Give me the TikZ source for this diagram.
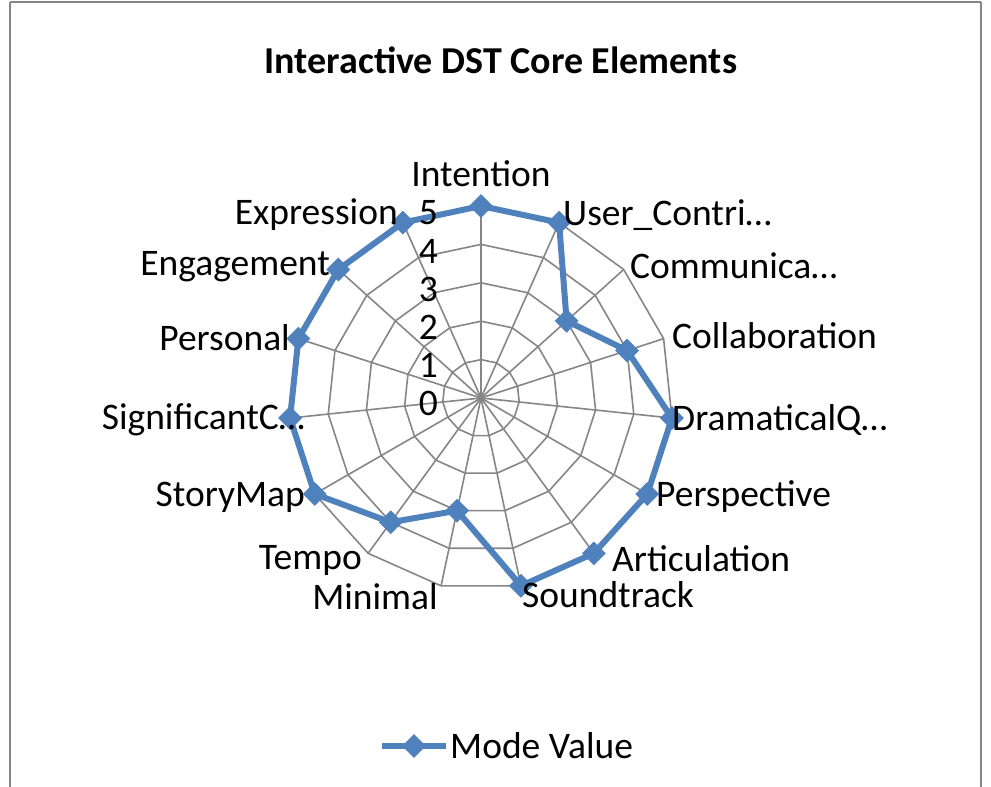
\documentclass[tikz,border=0pt]{standalone}
\usepackage{fontspec}
\setmainfont{Carlito}
\usetikzlibrary{shapes.geometric,calc}
\definecolor{serblue}{HTML}{4F81BD}
\definecolor{gridgray}{HTML}{868686}
\begin{document}
\begin{tikzpicture}[x=1pt,y=-1pt,
  lbl/.style={font=\fontsize{37.5}{40}\selectfont,inner sep=0pt},
  mk/.style={diamond,fill=serblue,minimum size=24pt,inner sep=0pt},
  gridl/.style={draw=gridgray,line width=1.6pt}]
\useasboundingbox (0,0) rectangle (991,787);
\fill[white] (0,0) rectangle (991,787);
\draw[gridgray,line width=1.5pt] (10,2) -- (981,2);
\draw[gridgray,line width=1.5pt] (10,2) -- (10,790);
\draw[gridgray,line width=1.5pt] (981,2) -- (981,790);
\coordinate (c) at (481,398);
% grid
\foreach \r in {1,...,5}{
  \draw[gridl] ($(c)+(0,{-38.4*\r})$) \foreach \k in {1,...,14}{ -- ($(c)+({38.4*\r*sin(24*\k)},{-38.4*\r*cos(24*\k)})$)} -- cycle;
}
\foreach \k in {0,...,14}{
  \draw[gridl] (c) -- ++({192*sin(24*\k)},{-192*cos(24*\k)});
}
% data
\foreach \v [count=\i from 0] in {5,5,3,4,5,5,5,5,3,4,5,5,5,5,5}{
  \coordinate (p\i) at ($(c)+({38.4*\v*sin(24*\i)},{-38.4*\v*cos(24*\i)})$);
}
\draw[serblue,line width=6pt,line join=round] (p0) \foreach \i in {1,...,14}{ -- (p\i)} -- cycle;
\foreach \i in {0,...,14}{ \node[mk] (m\i) at (p\i) {}; }
% scale numbers
\foreach \n in {0,...,5}{
  \node[lbl,anchor=east] (s\n) at (438,{403-38*\n}) {\n};
}
% labels
\node[lbl,anchor=center] (l0) at (481,174) {Intention};
\node[lbl,anchor=west] (l1) at (563,215) {User\_Contri…};
\node[lbl,anchor=west] (l2) at (630,266) {Communica…};
\node[lbl,anchor=west] (l3) at (672,336) {Collaboration};
\node[lbl,anchor=west] (l4) at (672,420) {DramaticalQ…};
\node[lbl,anchor=west] (l5) at (656,497) {Perspective};
\node[lbl,anchor=west] (l6) at (612,559) {Articulation};
\node[lbl,anchor=west] (l7) at (522,595) {Soundtrack};
\node[lbl,anchor=east] (l8) at (438,597) {Minimal};
\node[lbl,anchor=east] (l9) at (362,560) {Tempo};
\node[lbl,anchor=east] (l10) at (305,497) {StoryMap};
\node[lbl,anchor=east] (l11) at (305,420) {SignificantC…};
\node[lbl,anchor=east] (l12) at (290,338) {Personal};
\node[lbl,anchor=east] (l13) at (330,267) {Engagement};
\node[lbl,anchor=east] (l14) at (398,215) {Expression};
% title
\node[font=\fontsize{38}{42}\selectfont\bfseries,inner sep=0pt] (title) at (501,60) {Interactive DST Core Elements};
% legend
\coordinate (la) at (382,746);
\coordinate (lb) at (446,746);
\draw[serblue,line width=6pt] (la) -- (lb);
\node[mk] (lm) at (414,746) {};
\node[lbl,anchor=west] (lt) at (450,746) {Mode Value};
\end{tikzpicture}
\end{document}
